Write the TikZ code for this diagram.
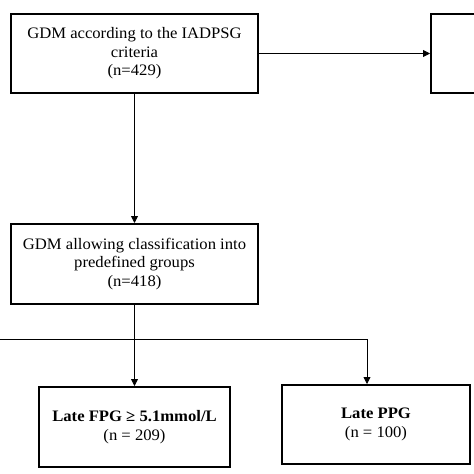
\documentclass[tikz,border=0pt]{standalone}
\usepackage{fontspec}
\setmainfont[FakeStretch=1.04]{Liberation Serif}
\usetikzlibrary{arrows.meta}
\tikzset{box/.style={draw,line width=2pt,align=center,font=\fontsize{16}{18.5}\selectfont},
  link/.style={line width=0.8pt},
  arr/.style={link,-{Triangle[length=7pt,width=7pt]}}}
\begin{document}
\begin{tikzpicture}[x=1pt,y=-1pt]
        \useasboundingbox (0,0) rectangle (474,474); \clip (0,0) rectangle (474,474);
        \node[box,minimum width=247pt,minimum height=79pt] (iadpsg) at (134.5,53.5) {GDM according to the IADPSG\\criteria\\(n=429)};
        \node[box,minimum width=200pt,minimum height=79pt,anchor=west] (excl) at (430,53.5) {};
        \node[box,minimum width=247pt,minimum height=80pt] (groups) at (134.5,264) {GDM allowing classification into\\predefined groups\\(n=418)};
        \node[box,minimum width=191pt,minimum height=80pt] (fpg) at (134.5,427) {\textbf{Late FPG \char"2265\ 5.1mmol/L}\\(n = 209)};
        \node[box,minimum width=188pt,minimum height=79pt] (ppg) at (376,424.5) {\textbf{Late PPG}\\(n = 100)};
        \coordinate (split) at (134.5,339); \coordinate (lft) at (-20,339); \coordinate (rgt) at (367,339);
        \draw[arr] (iadpsg) -- (excl);
        \draw[arr] (iadpsg) -- (groups);
        \draw[link] (groups) -- (split); \draw[link] (lft) -- (rgt);
        \draw[arr] (split) -- (fpg);
        \draw[arr] (rgt) -- (rgt |- ppg.north);
      \end{tikzpicture}
\end{document}
